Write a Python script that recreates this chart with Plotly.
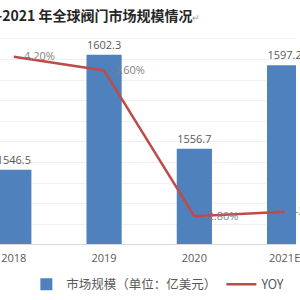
import plotly.graph_objects as go

years = ["2018", "2019", "2020", "2021E"]
market_size = [1546.5, 1602.3, 1556.7, 1597.2]
yoy = [4.2, 3.6, -2.8, -2.6]
yoy_labels = ["4.20%", "3.60%", "-2.80%", "-2.60%"]
bar_labels = ["1546.5", "1602.3", "1556.7", "1597.2"]

title_text = "-2021 年全球阀门市场规模情况"
bar_name = "市场规模（单位：亿美元）"
line_name = "YOY"

fig = go.Figure()
fig.add_trace(go.Bar(
    x=years, y=market_size, name=bar_name,
    marker=dict(color="#4f81bd", line=dict(width=0)),
    width=0.39,
    text=bar_labels, textposition="outside", cliponaxis=False,
    textfont=dict(family="Open Sans, Noto Sans CJK SC", size=11, color="#595959"),
))
fig.add_trace(go.Scatter(
    x=years, y=yoy, name=line_name, yaxis="y2",
    mode="lines", line=dict(color="#be4b48", width=2.5),
    cliponaxis=False,
))

for i, (yv, lab) in enumerate(zip(yoy, yoy_labels)):
    fig.add_annotation(
        x=i, y=yv, xref="x", yref="y2", text=lab, showarrow=False,
        xanchor="left", yanchor="middle", xshift=8, yshift=1,
        font=dict(family="Open Sans, Noto Sans CJK SC", size=11, color="#7f7f7f"),
    )

fig.add_annotation(
    text=title_text + "<span style='font-size:9px;color:#999999;font-weight:normal'>↵</span>",
    xref="paper", yref="paper", x=-0.018, y=1 + 8 / 223,
    xanchor="left", yanchor="middle", showarrow=False,
    font=dict(family="Noto Sans CJK SC", size=14, color="#262626", weight="bold"),
)

fig.update_layout(
    width=300, height=300,
    margin=dict(l=0, r=0, t=23, b=54),
    paper_bgcolor="white", plot_bgcolor="white",
    showlegend=True,
    legend=dict(orientation="h", x=0.535, xanchor="center", y=-0.184, yanchor="middle",
                font=dict(family="Noto Sans CJK SC", size=12.5, color="#595959"),
                itemwidth=30, tracegroupgap=0),
    xaxis=dict(type="category", range=[-0.153, 3.126], showgrid=False,
               showline=True, linecolor="#d9d9d9", linewidth=1,
               tickfont=dict(family="Open Sans", size=11, color="#595959"),
               ticklabelstandoff=4),
    yaxis=dict(range=[1510.4, 1617.7], tick0=1510, dtick=10,
               showgrid=True, gridcolor="#f0f0f0", gridwidth=1,
               showticklabels=False, zeroline=False),
    yaxis2=dict(range=[-4.02, 5.68], overlaying="y", side="right",
                showgrid=False, showticklabels=False, zeroline=False),
    bargap=0.6,
)

fig.write_html("out.html")
